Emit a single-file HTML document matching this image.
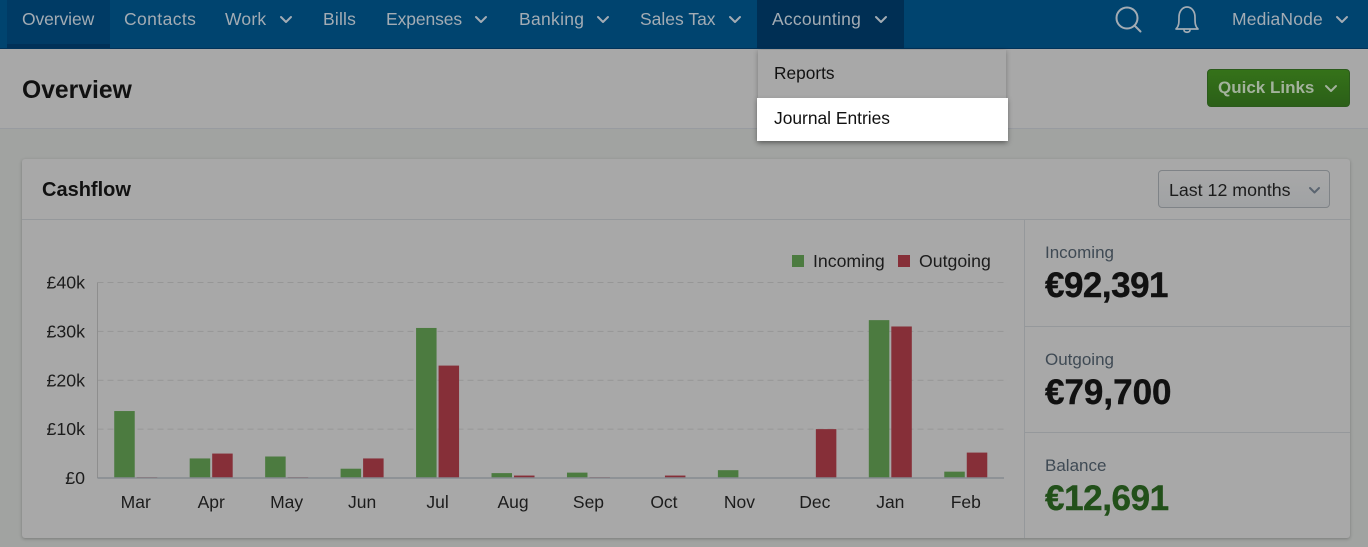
<!DOCTYPE html>
<html lang="en">
<head>
<meta charset="utf-8">
<title>Overview - Cashflow</title>
<style>
html,body{margin:0;padding:0;width:1368px;height:547px;overflow:hidden;background:#a1a3a1;font-family:"Liberation Sans",sans-serif;}
.abs,.t{position:absolute;}
.t{white-space:nowrap;line-height:20px;height:20px;}
.nav{font-size:17.5px;color:#a3acb4;top:9px;}
.stat-label{font-size:17px;color:#3f4a54;left:1045px;}
.stat-value{font-size:35px;font-weight:bold;color:#111;left:1045px;-webkit-text-stroke:.4px currentColor;}
</style>
</head>
<body>
<div class="abs" style="left:0;top:0;width:1368px;height:48px;background:#00446f;border-bottom:1px solid #00335a;"></div>
<div class="abs" style="left:7px;top:0;width:103px;height:44px;background:#003b65;border-bottom:4px solid #003158;"></div>
<div class="abs" style="left:757px;top:0;width:147px;height:48px;background:#002f54;"></div>

<div class="t nav" style="left:22px;letter-spacing:-.1px;">Overview</div>
<div class="t nav" style="left:124px;letter-spacing:.4px;">Contacts</div>
<div class="t nav" style="left:225px;letter-spacing:.2px;">Work</div>
<div class="t nav" style="left:323px;letter-spacing:.2px;">Bills</div>
<div class="t nav" style="left:386px;letter-spacing:-.1px;">Expenses</div>
<div class="t nav" style="left:519px;letter-spacing:.3px;">Banking</div>
<div class="t nav" style="left:640px;">Sales Tax</div>
<div class="t nav" style="left:772px;letter-spacing:.25px;">Accounting</div>
<div class="t nav" style="left:1232px;letter-spacing:.15px;">MediaNode</div>

<svg class="abs" style="left:0;top:0;" width="1368" height="48" fill="none" stroke="#a3acb4" stroke-width="2" stroke-linecap="round" stroke-linejoin="round">
  <path d="M281 17l5 5 5-5"/>
  <path d="M476 17l5 5 5-5"/>
  <path d="M598 17l5 5 5-5"/>
  <path d="M730 17l5 5 5-5"/>
  <path d="M876 17l5 5 5-5"/>
  <path d="M1337 17l5 5 5-5"/>
  <g>
    <circle cx="1127" cy="18" r="10.5"/>
    <path d="M1134.500 25.500l6 6"/>
  </g>
  <g stroke-width="1.7">
    <path d="M1176 29c3-3 3-6 3-12 0-5 3-10 8-10s8 5 8 10c0 6 0 9 3 12z"/>
    <path d="M1184 30c0 3 6 3 6 0"/>
  </g>
</svg>

<div class="abs" style="left:0;top:49px;width:1368px;height:79px;background:#a8a8a8;border-bottom:1px solid #989ba0;"></div>
<div class="t" style="left:22px;top:81px;font-size:24.7px;font-weight:bold;color:#111;">Overview</div>

<div class="abs" style="left:1207px;top:69px;width:143px;height:38px;box-sizing:border-box;border-radius:4px;background:linear-gradient(#357219,#2b5f18);border:1px solid #2b5a1c;"></div>
<div class="t" style="left:1218px;top:78px;font-size:17px;font-weight:bold;color:#a3b29c;">Quick Links</div>
<svg class="abs" style="left:1320px;top:78px;" width="20" height="20" fill="none" stroke="#a3b29c" stroke-width="2" stroke-linecap="round" stroke-linejoin="round"><path d="M6 8l5 5 5-5"/></svg>

<div class="abs" style="left:22px;top:159px;width:1328px;height:379px;background:#a8a8a8;border-radius:3px;box-shadow:0 1px 3px rgba(0,0,0,.25);"></div>
<div class="abs" style="left:22px;top:219px;width:1328px;height:1px;background:#95989b;"></div>
<div class="abs" style="left:1024px;top:220px;width:1px;height:318px;background:#95989b;"></div>
<div class="abs" style="left:1025px;top:326px;width:325px;height:1px;background:#95989b;"></div>
<div class="abs" style="left:1025px;top:432px;width:325px;height:1px;background:#95989b;"></div>

<div class="t" style="left:42px;top:180px;font-size:20px;font-weight:bold;color:#111;">Cashflow</div>

<div class="abs" style="left:1158px;top:170px;width:172px;height:38px;box-sizing:border-box;border-radius:4px;background:linear-gradient(#a8a8a8,#a0a2a4);border:1px solid #7f8387;"></div>
<div class="t" style="left:1169px;top:180px;font-size:17.8px;color:#1c1c1c;">Last 12 months</div>
<svg class="abs" style="left:1304px;top:180px;" width="20" height="20" fill="none" stroke="#5a6470" stroke-width="2" stroke-linecap="round" stroke-linejoin="round"><path d="M6 8l4.500 4.500L15 8"/></svg>

<svg id="chart" class="abs" style="left:0;top:0;" width="1368" height="547"></svg>

<div class="t stat-label" style="top:243px;">Incoming</div>
<div class="t stat-value" style="top:276px;letter-spacing:-.5px;">€92,391</div>
<div class="t stat-label" style="top:350px;">Outgoing</div>
<div class="t stat-value" style="top:383px;">€79,700</div>
<div class="t stat-label" style="top:456px;">Balance</div>
<div class="t stat-value" style="top:489px;letter-spacing:-.4px;color:#22501a;">€12,691</div>

<div class="abs" style="left:758px;top:50px;width:248px;height:91px;background:#a8a8a8;box-shadow:0 1px 5px rgba(0,0,0,.28);"></div>
<div class="abs" style="left:757px;top:98px;width:251px;height:43px;background:#ffffff;box-shadow:0 2px 5px rgba(0,0,0,.25);"></div>
<div class="t" style="left:774px;top:63px;font-size:17.3px;color:#111;">Reports</div>
<div class="t" style="left:774px;top:108px;font-size:17.4px;color:#111;">Journal Entries</div>

<script>
const categories = ["Mar","Apr","May","Jun","Jul","Aug","Sep","Oct","Nov","Dec","Jan","Feb"];
const incoming = [13.7,4.0,4.4,1.9,30.7,1.0,1.1,0.1,1.6,0.1,32.3,1.3];
const outgoing = [0.2,5.0,0.2,4.0,23.0,0.5,0.2,0.5,0.1,10.0,31.0,5.2];
const yTicks = [0,10,20,30,40];
const yTickLabels = ["£0","£10k","£20k","£30k","£40k"];
const legendLabels = ["Incoming","Outgoing"];

const NS = "http://www.w3.org/2000/svg";
const svg = document.getElementById("chart");
const plot = {left:97.5, right:1004, top:282.5, bottom:478, max:40};
const GREEN = "#4c7b40", RED = "#862f38";

function yScale(v){ return plot.bottom - (v / plot.max) * (plot.bottom - plot.top); }
function bandWidth(){ return (plot.right - plot.left - 1) / categories.length; }
function xCenter(i){ return plot.left + 0.500 + bandWidth() * (i + 0.5); }
function make(tag, attrs, parent){
  const el = document.createElementNS(NS, tag);
  for (const k in attrs) el.setAttribute(k, attrs[k]);
  (parent || svg).appendChild(el);
  return el;
}

yTicks.forEach(function(v, i){
  if (v !== 0) {
    const grid = make("line", {x1:plot.left, x2:plot.right, y1:yScale(v), y2:yScale(v), stroke:"#969696", "stroke-dasharray":"6 4"});
    
    
  }
  const tick = make("text", {x:85, y:yScale(v) + 6, "text-anchor":"end", "font-size":"17.8", fill:"#1c1c1c", "font-family":"Liberation Sans, sans-serif"});
  tick.textContent = yTickLabels[i];
  
  
});

const yAxis = make("line", {x1:plot.left, x2:plot.left, y1:plot.top, y2:plot.bottom, stroke:"#8e8e8e"});



categories.forEach(function(cat, i){
  const cx = xCenter(i);
  const barW = 20.5;
  const gy = yScale(incoming[i]);
  const ry = yScale(outgoing[i]);
  const gBar = make("rect", {x:cx - barW - 1, y:gy, width:barW, height:plot.bottom - gy, fill:GREEN, opacity: incoming[i] < 0.15 ? 0.6 : 1});
  
  
  const rBar = make("rect", {x:cx + 1, y:ry, width:barW, height:plot.bottom - ry, fill:RED, opacity: outgoing[i] < 0.25 ? 0.65 : 1});
  
  
  const lab = make("text", {x:cx, y:508, "text-anchor":"middle", "font-size":"17.5", fill:"#1c1c1c", "font-family":"Liberation Sans, sans-serif"});
  lab.textContent = cat;
  
  
});

const xAxis = make("line", {x1:plot.left, x2:plot.right, y1:plot.bottom, y2:plot.bottom, stroke:"#858a8f", "stroke-width":1.500});



const legendSwatchX = [792, 898];
const legendColors = [GREEN, RED];
legendLabels.forEach(function(name, i){
  const sw = make("rect", {x:legendSwatchX[i], y:255, width:12, height:12, fill:legendColors[i]});
  
  
  const txt = make("text", {x:legendSwatchX[i] + 21, y:267, "font-size":"17.7", fill:"#1c1c1c", "font-family":"Liberation Sans, sans-serif"});
  txt.textContent = name;
  
  
});
</script>
</body>
</html>
